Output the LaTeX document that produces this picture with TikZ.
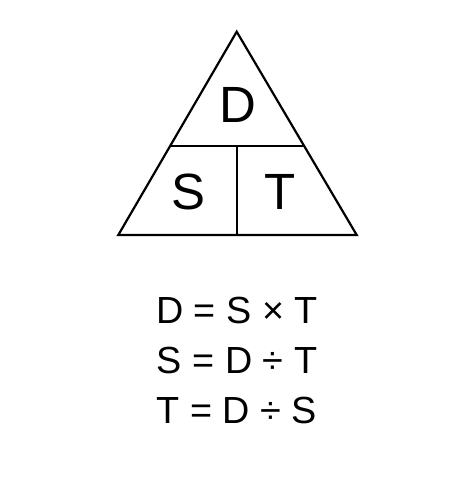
\documentclass[tikz,border=0pt]{standalone}
\usepackage{fontspec}
\setmainfont{Liberation Sans}
\usetikzlibrary{positioning}

\begin{document}
\begin{tikzpicture}[x=0.02cm,y=-0.02cm]
\tikzset{
  part/.style={font=\fontsize{29}{34}\selectfont, inner sep=0pt},
  formula/.style={font=\fontsize{21.5}{26}\selectfont, inner sep=0pt, anchor=base}
}
\useasboundingbox (0,0) rectangle (474,489);
% triangle corners
\coordinate (top) at (236.7,31.7);
\coordinate (bl) at (118.3,235);
\coordinate (br) at (356.7,235);
\coordinate (ml) at (171,146);
\coordinate (mr) at (302.7,146);
\coordinate (mid) at (236.7,146);
\coordinate (bm) at (236.7,235);
\draw [black, line width=1.25pt, line join=miter] (top) -- (bl) -- (br) -- cycle;
\draw [black, line width=1.25pt] (ml) -- (mr);
\draw [black, line width=1.25pt] (mid) -- (bm);
\node [part] (d) at (238,105) {D};
\node [part] (s) at (188,192) {S};
\node [part] (t) at (280,192) {T};
% formulas
\node [formula] (f1) at (237,323) {D = S × T};
\node [formula] (f2) at (237,373) {S = D ÷ T};
\node [formula] (f3) at (237,423) {T = D ÷ S};
\end{tikzpicture}
\end{document}
